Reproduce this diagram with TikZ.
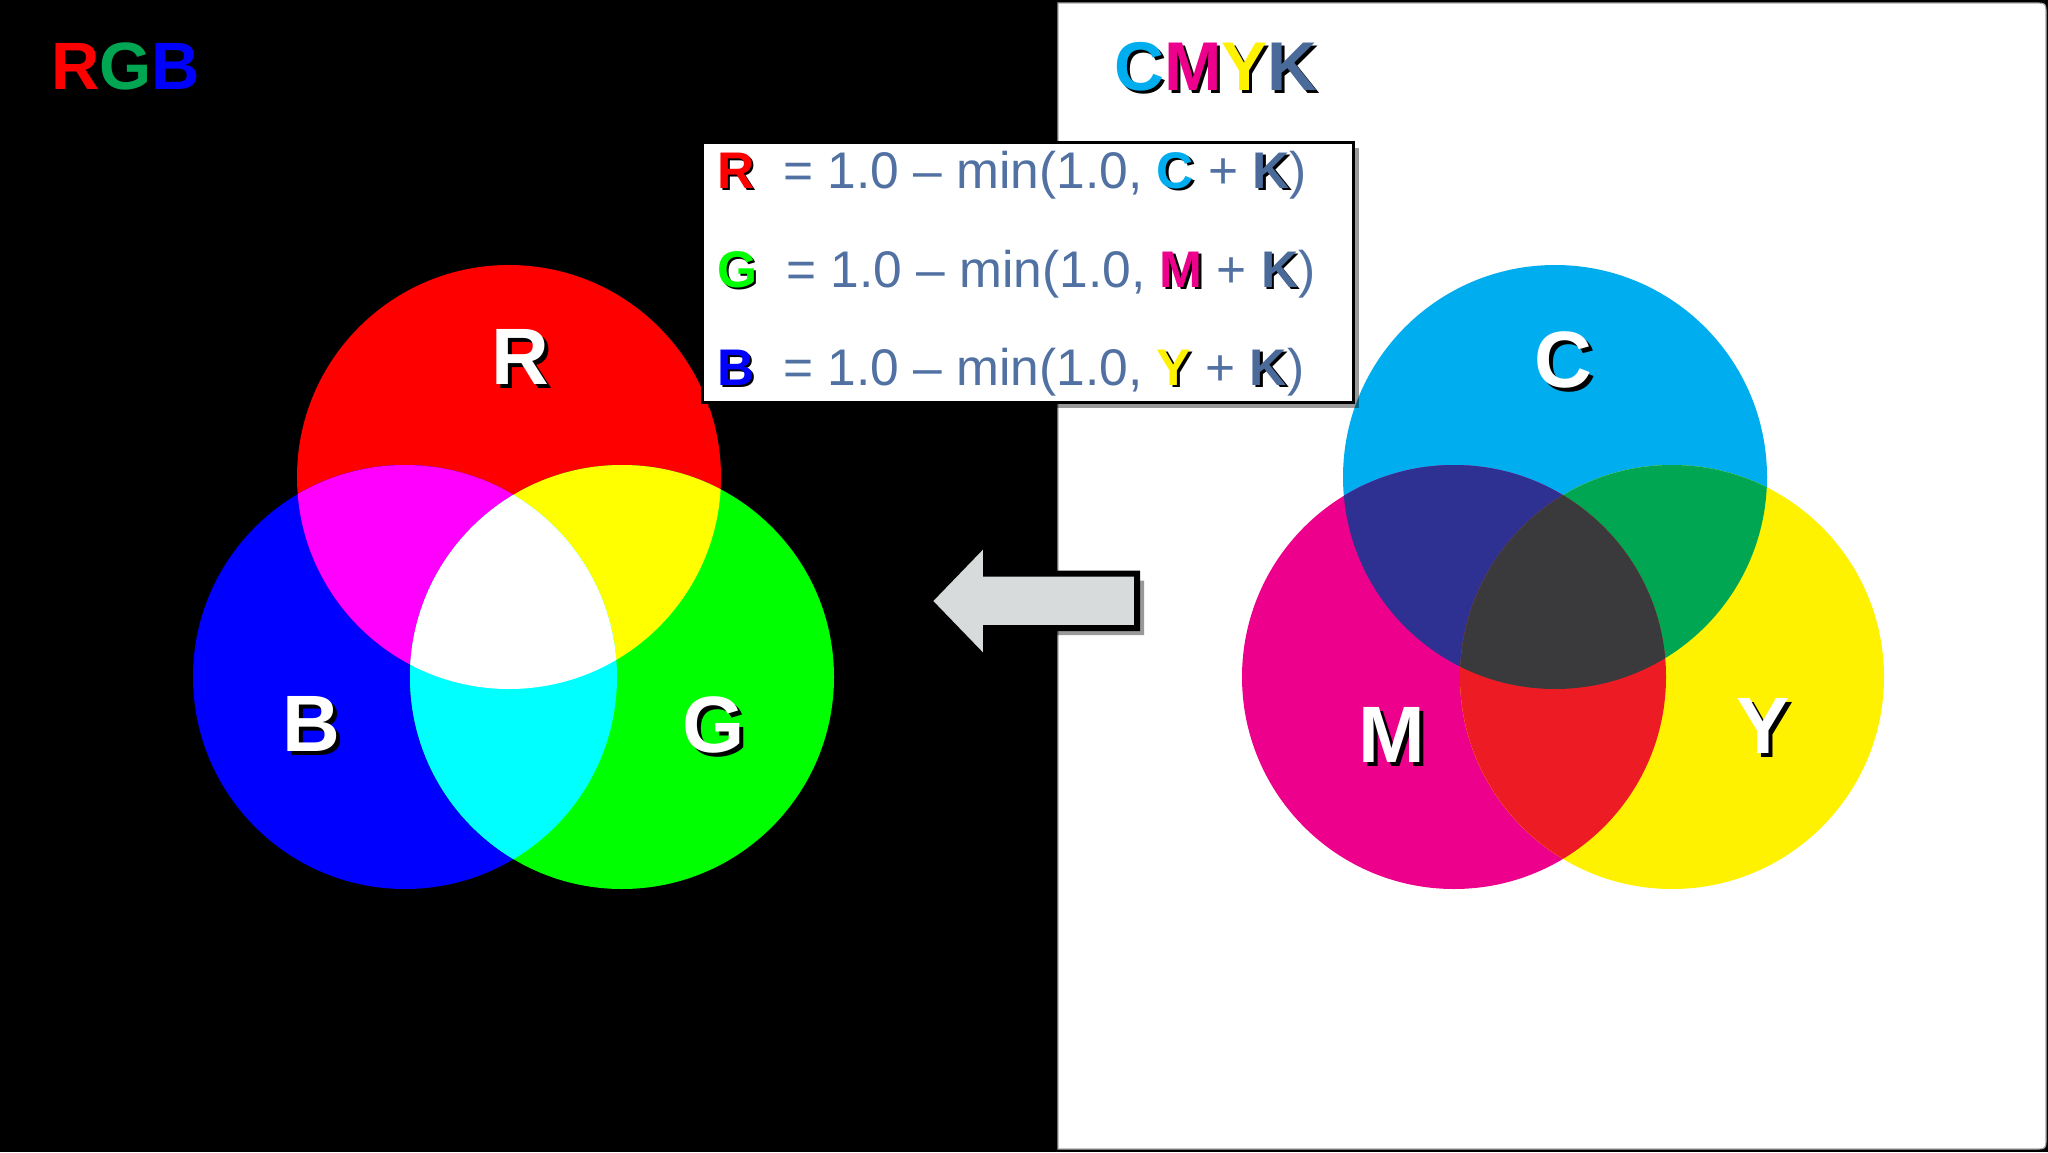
\documentclass[tikz,border=0pt]{standalone}
\usepackage{fontspec}
\setmainfont{Liberation Sans}

\definecolor{rgbR}{HTML}{FF0000}
\definecolor{rgbG}{HTML}{00FF00}
\definecolor{rgbB}{HTML}{0000FF}
\definecolor{mixRB}{HTML}{FF00FF}
\definecolor{mixRG}{HTML}{FFFF00}
\definecolor{mixBG}{HTML}{00FFFF}
\definecolor{ttlG}{HTML}{00A651}
\definecolor{cmyC}{HTML}{00AEEF}
\definecolor{cmyM}{HTML}{EC008C}
\definecolor{cmyY}{HTML}{FFF200}
\definecolor{cmyK}{HTML}{4A6A9A}
\definecolor{mixCM}{HTML}{2E3192}
\definecolor{mixCY}{HTML}{00A651}
\definecolor{mixMY}{HTML}{ED1C24}
\definecolor{mixCMY}{HTML}{3A393B}
\definecolor{ftext}{HTML}{5171A3}
\definecolor{arrowgray}{HTML}{D8DBDC}

% bold letter with a black drop shadow
\newcommand\dropltr[2]{\makebox[0pt][l]{\hspace{0.05em}\raisebox{-0.05em}[0pt][0pt]{\color{black}\bfseries #2}}{\color{#1}\bfseries #2}}

\begin{document}
\begin{tikzpicture}[x=1pt, y=-1pt,
    ltr/.style={font=\fontsize{80}{80}\selectfont, inner sep=0pt},
    ttl/.style={anchor=base west, inner sep=0pt, font=\fontsize{69}{69}\selectfont\bfseries},
    fline/.style={anchor=base west, inner sep=0pt, font=\fontsize{51.5}{60}\selectfont, text=ftext},
    castshadow/.style={fill=black, opacity=0.4}]
    \def\rad{212}

    % Background and white panel
    \fill[black] (0,0) rectangle (2048,1152);
    \useasboundingbox (0,0) rectangle (2048,1152);
    \filldraw[fill=white, draw=gray!70, line width=1.2pt] (1058,3) -- (2034,3) .. controls (2046,3) .. (2046,15)
        -- (2046,1137) .. controls (2046,1149) .. (2034,1149) -- (1058,1149) -- cycle;

    % Draw RGB circles
    \coordinate (cR) at (509,477);
    \coordinate (cB) at (405,677);
    \coordinate (cG) at (622,677);
    \fill[rgbR] (cR) circle[radius=\rad];
    \fill[rgbB] (cB) circle[radius=\rad];
    \fill[rgbG] (cG) circle[radius=\rad];
    \begin{scope}
        \clip (cR) circle[radius=\rad];
        \fill[mixRB] (cB) circle[radius=\rad];
        \fill[mixRG] (cG) circle[radius=\rad];
    \end{scope}
    \begin{scope}
        \clip (cB) circle[radius=\rad];
        \fill[mixBG] (cG) circle[radius=\rad];
        \clip (cR) circle[radius=\rad];
        \fill[white] (cG) circle[radius=\rad];
    \end{scope}

    % Draw CMYK circles
    \coordinate (cC) at (1555,477);
    \coordinate (cM) at (1454,677);
    \coordinate (cY) at (1672,677);
    \fill[cmyC] (cC) circle[radius=\rad];
    \fill[cmyM] (cM) circle[radius=\rad];
    \fill[cmyY] (cY) circle[radius=\rad];
    \begin{scope}
        \clip (cC) circle[radius=\rad];
        \fill[mixCM] (cM) circle[radius=\rad];
        \fill[mixCY] (cY) circle[radius=\rad];
    \end{scope}
    \begin{scope}
        \clip (cM) circle[radius=\rad];
        \fill[mixMY] (cY) circle[radius=\rad];
        \clip (cC) circle[radius=\rad];
        \fill[mixCMY] (cY) circle[radius=\rad];
    \end{scope}

    % Labels
    \node[ltr] (lblR) at (520,357) {\dropltr{white}{R}};
    \node[ltr] (lblB) at (311,724) {\dropltr{white}{B}};
    \node[ltr] (lblG) at (714,725) {\dropltr{white}{G}};
    \node[ltr] (lblC) at (1563,360) {\dropltr{white}{C}};
    \node[ltr] (lblM) at (1392,735) {\dropltr{white}{M}};
    \node[ltr] (lblY) at (1763,726) {\dropltr{white}{Y}};

    % Titles
    \node[ttl, font=\fontsize{67}{67}\selectfont\bfseries] (ttlRGB) at (51,89) {\textcolor{rgbR}{R}\textcolor{ttlG}{G}\textcolor{rgbB}{B}};
    \node[ttl] (ttlCMYK) at (1114,90) {\dropltr{cmyC}{C}\dropltr{cmyM}{M}\dropltr{cmyY}{Y}\dropltr{cmyK}{K}};

    % Formula box
    \fill[castshadow] (708,148) rectangle (1359,408);
    \node[draw=black, line width=2.5pt, fill=white, minimum width=651pt, minimum height=260pt,
        inner sep=0pt, anchor=north west] (frm) at (701,141) {};
    \node[fline] (lnR) at (717,188) {\dropltr{rgbR}{R}\hspace{0.56em}= 1.0 -- min(1.0, \dropltr{cmyC}{C} + \dropltr{cmyK}{K})};
    \node[fline] (lnG) at (717,287) {\dropltr{rgbG}{G}\hspace{0.56em}= 1.0 -- min(1.0, \dropltr{cmyM}{M} + \dropltr{cmyK}{K})};
    \node[fline] (lnB) at (717,385) {\dropltr{rgbB}{B}\hspace{0.56em}= 1.0 -- min(1.0, \dropltr{cmyY}{Y} + \dropltr{cmyK}{K})};

    % Block arrow
    \def\arrowpath{(929,601) -- (986,542) -- (986,573.5) -- (1137,573.5) -- (1137,628) -- (986,628) -- (986,660) -- cycle}
    \fill[castshadow, shift={(7,7)}] \arrowpath;
    \filldraw[fill=arrowgray, draw=black, line width=6pt] \arrowpath;
\end{tikzpicture}
\end{document}
